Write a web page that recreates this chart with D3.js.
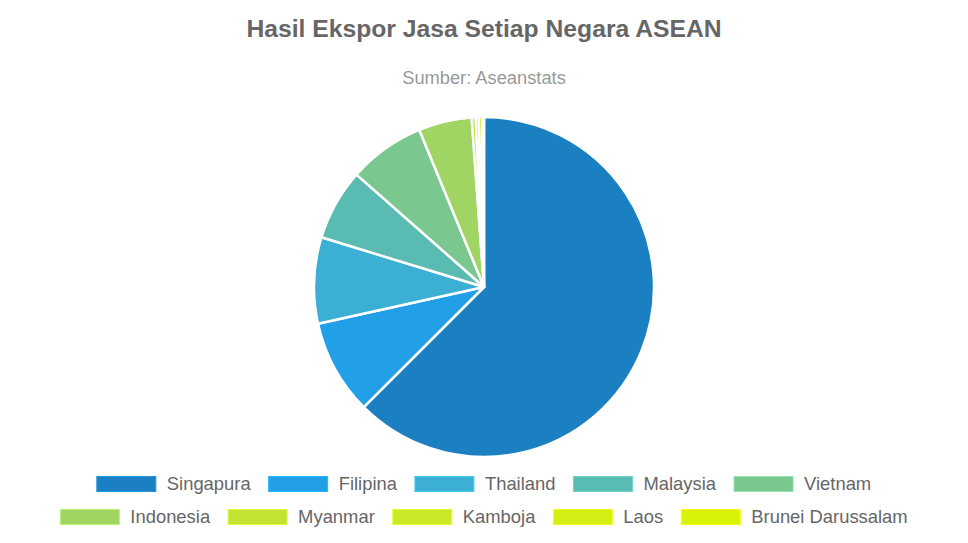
<!DOCTYPE html>
<html>
<head>
<meta charset="utf-8">
<script src="https://cdn.jsdelivr.net/npm/d3@7"></script>
<style>
  body { margin: 0; background: #fff; }
  text { font-family: "Liberation Sans", Arial, sans-serif; }
</style>
</head>
<body>
<div id="chart"></div>
<script>
var svgWidth = 968;
var svgHeight = 543;

// data (share of ASEAN services exports, %)
var countries = ["Singapura", "Filipina", "Thailand", "Malaysia", "Vietnam",
    "Indonesia", "Myanmar", "Kamboja", "Laos", "Brunei Darussalam"];
var values = [62.5, 9.03, 8.19, 6.78, 7.28, 5.06, 0.38, 0.3, 0.33, 0.15];
var colors = ["#1b80c1", "#22a0e7", "#3cb0d4", "#5abbb2", "#7ac88f",
    "#a0d563", "#c2e234", "#cbe826", "#d2ee12", "#d8f20a"];

var titleText = "Hasil Ekspor Jasa Setiap Negara ASEAN";
var subtitleText = "Sumber: Aseanstats";

var data = countries.map(function(c, i) {
    return { name: c, value: values[i], color: colors[i] };
});

var svg = d3.select("#chart")
    .append("svg")
    .attr("width", svgWidth)
    .attr("height", svgHeight);

// title + subtitle
svg.append("text")
    .attr("x", 484)
    .attr("y", 37)
    .style("text-anchor", "middle")
    .style("font-size", "24.7px")
    .style("font-weight", "bold")
    .style("fill", "#666")
    .text(titleText);

svg.append("text")
    .attr("x", 484)
    .attr("y", 84)
    .style("text-anchor", "middle")
    .style("font-size", "18.3px")
    .style("fill", "#999")
    .text(subtitleText);

// pie
var radius = 170;
var pieGroup = svg.append("g")
    .attr("transform", "translate(484, 287)");

var pie = d3.pie()
    .sort(null)
    .value(d => d.value);

var arc = d3.arc()
    .innerRadius(0)
    .outerRadius(radius);

pieGroup.selectAll("path")
    .data(pie(data))
    .enter()
    .append("path")
    .attr("d", arc)
    .attr("fill", d => d.data.color)
    .attr("stroke", "#fff")
    .attr("stroke-width", 2.5)
    .attr("stroke-linejoin", "round");

// legend, wrapped into centered rows
var boxW = 59, boxH = 15, textGap = 11, itemGap = 18, maxRow = 900;
var rowY = [484, 517];

var legend = svg.append("g");
var items = legend.selectAll("g")
    .data(data)
    .enter()
    .append("g");

items.append("rect")
    .attr("width", boxW)
    .attr("height", boxH)
    .attr("y", -boxH / 2)
    .attr("fill", d => d.color)
    .attr("stroke", d => d3.color(d.color).brighter(0.4))
    .attr("stroke-width", 1);

items.append("text")
    .attr("x", boxW + textGap)
    .attr("dy", "0.35em")
    .style("font-size", "18.4px")
    .style("fill", "#666")
    .text(d => d.name);

var rows = [[]];
var rowWidth = [0];
items.each(function(d) {
    var w = boxW + textGap + d3.select(this).select("text").node().getComputedTextLength();
    var r = rows.length - 1;
    var add = rows[r].length ? itemGap + w : w;
    if (rowWidth[r] + add > maxRow) {
        rows.push([]);
        rowWidth.push(0);
        r++;
        add = w;
    }
    rows[r].push({ node: this, w: w });
    rowWidth[r] += add;
});

rows.forEach(function(row, r) {
    var x = 484 - rowWidth[r] / 2;
    row.forEach(function(it) {
        d3.select(it.node).attr("transform", `translate(${x}, ${rowY[r]})`);
        x += it.w + itemGap;
    });
});
</script>
</body>
</html>
